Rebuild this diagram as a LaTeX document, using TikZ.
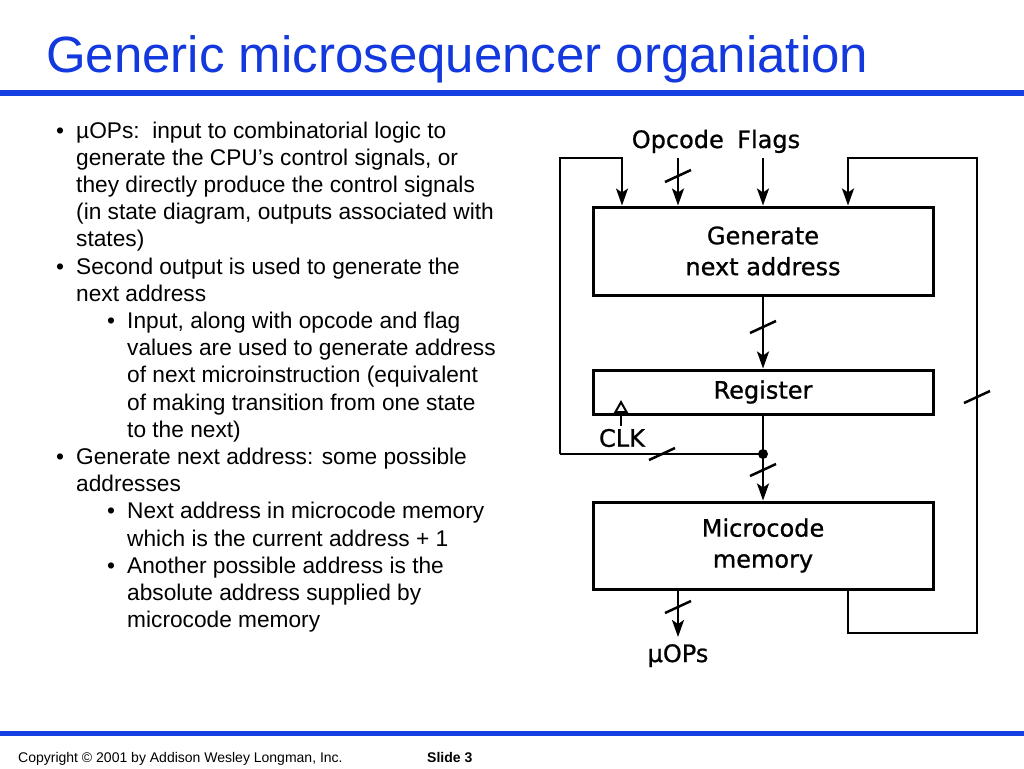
\documentclass[tikz,border=0pt]{standalone}
\usepackage{fontspec}
\setmainfont{Liberation Sans}
\newfontfamily\diafont[FakeBold=0.9]{DejaVu Sans}
\usetikzlibrary{arrows.meta}
\definecolor{slideblue}{RGB}{22,64,228}
\definecolor{titleblue}{RGB}{18,56,222}
\tikzset{
  bodytext/.style={anchor=base west, inner sep=0pt, font=\fontsize{22.7}{26}\selectfont},
  bul/.style={anchor=base, inner sep=0pt, font=\fontsize{22.7}{26}\selectfont},
  blk/.style={draw, line width=3pt, minimum width=340pt, inner sep=0pt, align=center,
              font=\diafont\fontsize{24}{31}\selectfont},
  lbl/.style={inner sep=0pt, font=\diafont\fontsize{24}{28}\selectfont},
  wire/.style={line width=2.5pt},
  arr/.style={line width=2.5pt, -{Stealth[length=17pt,width=12pt,inset=4pt]}},
  slash/.style={line width=2.5pt},
}
\begin{document}
\begin{tikzpicture}[x=1pt,y=-1pt]
\useasboundingbox (0,0) rectangle (1024,768);
% title and rules
\node[anchor=base west, inner sep=0pt, text=titleblue, font=\fontsize{51}{60}\selectfont] (title) at (46,72) {Generic microsequencer organiation};
\fill[slideblue] (0,90) rectangle (1024,96);
\fill[slideblue] (0,731) rectangle (1024,736);
\node[anchor=base west, inner sep=0pt, font=\fontsize{14}{16}\selectfont] (copy) at (18,762) {Copyright \textcopyright{} 2001 by Addison Wesley Longman, Inc.};
\node[anchor=base west, inner sep=0pt, font=\bfseries\fontsize{14}{16}\selectfont] (slide) at (427,762) {Slide 3};

% bullet text
\def\la{76}\def\lb{127}
\node[bul] (b1) at (60,138) {•};
\node[bodytext] (l1) at (\la,138.0) {µOPs:\ \ input to combinatorial logic to};
\node[bodytext] (l2) at (\la,165.2) {generate the CPU’s control signals, or};
\node[bodytext] (l3) at (\la,192.4) {they directly produce the control signals};
\node[bodytext] (l4) at (\la,219.6) {(in state diagram, outputs associated with};
\node[bodytext] (l5) at (\la,246.8) {states)};
\node[bul] (b2) at (60,274.0) {•};
\node[bodytext] (l6) at (\la,274.0) {Second output is used to generate the};
\node[bodytext] (l7) at (\la,301.2) {next address};
\node[bul] (b3) at (111,328.4) {•};
\node[bodytext] (l8) at (\lb,328.4) {Input, along with opcode and flag};
\node[bodytext] (l9) at (\lb,355.6) {values are used to generate address};
\node[bodytext] (l10) at (\lb,382.8) {of next microinstruction (equivalent};
\node[bodytext] (l11) at (\lb,410.0) {of making transition from one state};
\node[bodytext] (l12) at (\lb,437.2) {to the next)};
\node[bul] (b4) at (60,464.4) {•};
\node[bodytext] (l13) at (\la,464.4) {Generate next address: some possible};
\node[bodytext] (l14) at (\la,491.6) {addresses};
\node[bul] (b5) at (111,518.8) {•};
\node[bodytext] (l15) at (\lb,518.8) {Next address in microcode memory};
\node[bodytext] (l16) at (\lb,546.0) {which is the current address + 1};
\node[bul] (b6) at (111,573.2) {•};
\node[bodytext] (l17) at (\lb,573.2) {Another possible address is the};
\node[bodytext] (l18) at (\lb,600.4) {absolute address supplied by};
\node[bodytext] (l19) at (\lb,627.6) {microcode memory};

% diagram blocks
\node[blk, minimum height=88pt] (gen) at (763,251) {Generate\\next address};
\node[blk, minimum height=44pt] (reg) at (763,392) {Register};
\node[blk, minimum height=87pt] (mem) at (763,545.5) {Microcode\\memory};

% labels
\node[lbl, anchor=base east] (opc) at (724,148) {Opcode};
\node[lbl, anchor=base west] (flg) at (737,148) {Flags};
\node[lbl] (clk) at (622,438) {CLK};
\node[lbl, anchor=base] (uops) at (678,662) {μOPs};

% coordinates
\coordinate (tl) at (560,158);
\coordinate (tlc) at (622,158);
\coordinate (opin) at (678,158);
\coordinate (flin) at (763,158);
\coordinate (trc) at (848,158);
\coordinate (tr) at (977,158);
\coordinate (br) at (977,633);
\coordinate (bm) at (848,633);
\coordinate (bl) at (560,454);
\coordinate (j) at (763,454);
\coordinate (uend) at (678,637);
\coordinate (clkb) at (621,426);

% inputs
\draw[arr] (opin) -- (opin |- gen.north);
\draw[arr] (flin) -- (flin |- gen.north);
\draw[wire] (j) -- (bl);
\draw[arr, line width=1.8pt] (bl) -- (tl) -- (tlc) -- (tlc |- gen.north);
\draw[arr] (bm |- mem.south) -- (bm) -- (br) -- (tr) -- (trc) -- (trc |- gen.north);
% main path
\draw[arr] (gen.south) -- (reg.north);
\draw[wire] (reg.south) -- (j);
\draw[arr] (j) -- (mem.north);
\fill (j) circle (5pt);
\draw[arr] (uend |- mem.south) -- (uend);
% clock
\draw[line width=2pt, -{Triangle[open,length=13pt,width=14pt,line width=2pt]}] (clkb) -- (621,400);
% bus slashes
\foreach \p in {(678,176),(763,327),(662,454),(763,470),(977,397),(678,607)}{
  \draw[slash] \p ++(-13,6) -- ++(26,-12);
}
\end{tikzpicture}
\end{document}
